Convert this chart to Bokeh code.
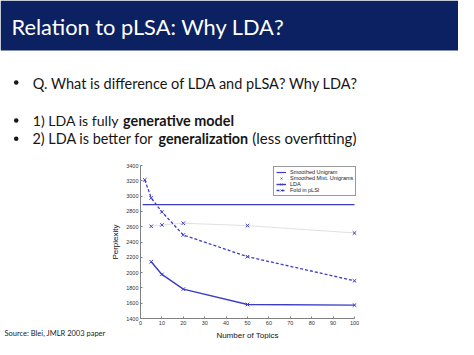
from bokeh.plotting import figure
from bokeh.models import Label, Range1d, FixedTicker, Legend, LinearAxis
from bokeh.embed import file_html
from bokeh.resources import INLINE

# ---- data ----
topics_mix = [5, 10, 20, 50, 100]
mix_unigram = [2605, 2623, 2645, 2614, 2518]
topics_lda = [5, 10, 20, 50, 100]
lda = [2142, 1976, 1784, 1583, 1575]
topics_plsi = [2, 5, 10, 20, 50, 100]
plsi = [3212, 2976, 2793, 2492, 2208, 1893]
unigram_x = [1, 100]
unigram = [2889, 2889]
y_ticks = [1400, 1600, 1800, 2000, 2200, 2400, 2600, 2800, 3000, 3200, 3400]
x_ticks = [0, 10, 20, 30, 40, 50, 60, 70, 80, 90, 100]

title = "Relation to pLSA: Why LDA?"
bullet1 = "Q. What is difference of LDA and pLSA? Why LDA?"
bullet2_a, bullet2_b = "1) LDA is fully", "generative model"
bullet3_a, bullet3_b, bullet3_c = "2) LDA is better for", "generalization", "(less overfitting)"
source = "Source: Blei, JMLR 2003 paper"

BLUE = "#3c3cc8"
NAVY = "#0b2161"
INK = "#161616"
W, H = 458, 339

# placement of the chart box on the canvas (pixels)
FL, FR, FT, FB = 140, 354, 165, 318
X0, X1, Y0, Y1 = 0, 100, 1400, 3400
sx = (X1 - X0) / (FR - FL)
sy = (Y1 - Y0) / (FB - FT)

# the frame covers the whole canvas; slide decorations use pixel coordinates
p = figure(width=W, height=H, output_backend="svg", toolbar_location=None,
           x_range=Range1d(0, W), y_range=Range1d(H, 0),
           min_border=0, x_axis_type=None, y_axis_type=None)
p.outline_line_color = None
p.grid.grid_line_color = None
p.background_fill_color = "white"
p.border_fill_color = "white"
p.extra_x_ranges = {"cx": Range1d(X0 - FL * sx, X0 + (W - FL) * sx)}
p.extra_y_ranges = {"cy": Range1d(Y0 - (H - FB) * sy, Y1 + FT * sy)}


def lab(x, y, text, size, color=INK, style="normal", font="Lato"):
    p.add_layout(Label(x=x, y=y, text=text, text_font=font, text_font_size=size,
                       text_color=color, text_font_style=style,
                       text_baseline="middle", text_align="left"))


# header bar + bullets (y = vertical middle of each text line)
p.quad(left=[0], right=[W], top=[0], bottom=[50], fill_color=NAVY, line_color=None)
lab(11, 26.2, title, "21.8px", color="white")
p.scatter([15.7, 15.7, 15.7], [82, 120, 138.3], size=4.5, fill_color=INK, line_color=None)
lab(32.3, 82.6, bullet1, "14.5px")
lab(32.3, 119.6, bullet2_a, "14.1px")
lab(122.5, 119.6, bullet2_b, "14.4px", style="bold")
lab(32.0, 137.5, bullet3_a, "14.4px")
lab(158.0, 137.5, bullet3_b, "14.3px", style="bold")
lab(251.7, 137.5, bullet3_c, "15px")
lab(4, 333, source, "7.5px", color="#222222")

# ---- chart (own ranges, own axes) ----
kw = dict(x_range_name="cx", y_range_name="cy")
xaxis = LinearAxis(fixed_location=Y0, bounds=(X0, X1), ticker=FixedTicker(ticks=x_ticks),
                   axis_label="Number of Topics", **kw)
yaxis = LinearAxis(fixed_location=X0, bounds=(Y0, Y1), ticker=FixedTicker(ticks=y_ticks),
                   axis_label="Perplexity", **kw)
for ax in (xaxis, yaxis):
    ax.axis_line_color = "#808080"
    ax.major_tick_line_color = "#808080"
    ax.major_tick_in = 2
    ax.major_tick_out = 0
    ax.minor_tick_line_color = None
    ax.major_label_text_font = "Liberation Sans"
    ax.major_label_text_font_size = "5.5px"
    ax.major_label_text_color = "#333333"
    ax.axis_label_text_font = "Liberation Sans"
    ax.axis_label_text_font_size = "8px"
    ax.axis_label_text_font_style = "normal"
    ax.axis_label_text_color = "#111111"
    ax.major_label_standoff = 2
    ax.axis_label_standoff = 3
p.add_layout(xaxis, "below")
p.add_layout(yaxis, "left")

r_uni = p.line(unigram_x, unigram, line_color=BLUE, line_width=1.2, **kw)
p.line(topics_mix, mix_unigram, line_color="#d8d8d8", line_width=0.8, **kw)
r_mix = p.scatter(topics_mix, mix_unigram, marker="x", size=5, line_color=BLUE, line_width=1, **kw)
r_lda_l = p.line(topics_lda, lda, line_color=BLUE, line_width=1.4, **kw)
r_lda_m = p.scatter(topics_lda, lda, marker="x", size=5, line_color=BLUE, line_width=1, **kw)
r_pl_l = p.line(topics_plsi, plsi, line_color=BLUE, line_width=1.3, line_dash="3 2", **kw)
r_pl_m = p.scatter(topics_plsi, plsi, marker="x", size=5, line_color=BLUE, line_width=1, **kw)

legend = Legend(items=[("Smoothed Unigram", [r_uni]),
                       ("Smoothed Mixt. Unigrams", [r_mix]),
                       ("LDA", [r_lda_l, r_lda_m]),
                       ("Fold in pLSI", [r_pl_l, r_pl_m])],
                location=(273, H - 196))
legend.label_text_font = "Liberation Sans"
legend.label_text_font_size = "5.5px"
legend.label_text_color = "#222222"
legend.label_height = 6
legend.glyph_height = 6
legend.glyph_width = 10
legend.label_standoff = 4
legend.spacing = 0
legend.padding = 2
legend.margin = 0
legend.border_line_color = "#333333"
legend.border_line_width = 1
legend.background_fill_alpha = 1
p.add_layout(legend, "center")

open("out.html", "w").write(file_html(p, INLINE))
